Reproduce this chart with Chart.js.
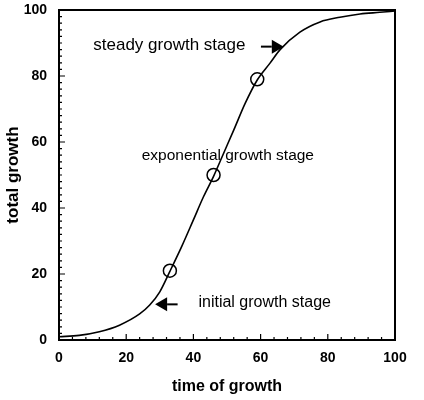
<!DOCTYPE html>
<html><head><meta charset="utf-8">
<script src="https://cdn.jsdelivr.net/npm/chart.js@4"></script>
<style>html,body{margin:0;padding:0;background:#fff}#wrap{width:424px;height:400px}</style>
</head><body><div id="wrap"><canvas id="c" width="424" height="400"></canvas></div>
<script>
// ---- data ----
const timeOfGrowth = [0, 6, 12, 18, 24, 27, 30, 33, 36.5, 40, 43, 46, 49, 52, 55.4, 59, 62.8, 65.8, 71.7, 77.7, 83.6, 89.6, 95.5, 100];
const totalGrowth  = [1.0, 1.4, 2.5, 4.5, 7.9, 10.6, 14.6, 20.8, 28.3, 36.4, 43.4, 49.6, 56.6, 63.6, 71.7, 78.8, 83.9, 88.0, 93.3, 96.4, 97.8, 98.8, 99.3, 99.7];
const stageTime    = [33, 46, 59];
const stageGrowth  = [21, 50, 79];
const xTickValues  = [0, 20, 40, 60, 80, 100];
const yTickValues  = [0, 20, 40, 60, 80, 100];
const stageLabels  = ['steady growth stage', 'exponential growth stage', 'initial growth stage'];
const labelTime    = [10.2, 24.6, 41.5];
const labelGrowth  = [87.9, 54.5, 9.9];
const arrowTailTime = [60.1, 35.3];
const arrowTipTime  = [66.9, 28.6];
const arrowGrowth   = [88.9, 10.8];
const xTitle = 'time of growth';
const yTitle = 'total growth';

// ---- styling ----
const FONT = "'Liberation Sans', Arial, sans-serif";
const LABEL_SIZES = [17, 15.5, 16];

const framePlugin = {
  id: 'frame',
  beforeDatasetsDraw(chart) {
    const {ctx, chartArea: a, scales: {x, y}} = chart;
    ctx.save();
    ctx.strokeStyle = '#000';
    ctx.lineWidth = 2;
    ctx.strokeRect(a.left, a.top, a.right - a.left, a.bottom - a.top);
    ctx.lineWidth = 1.2;
    ctx.beginPath();
    for (let v = 0; v <= 100; v += 2) {
      const py = y.getPixelForValue(v);
      const len = v % 20 === 0 ? 6 : 3;
      ctx.moveTo(a.left, py); ctx.lineTo(a.left + len, py);
    }
    for (let v = 0; v <= 100; v += 4) {
      const px = x.getPixelForValue(v);
      const len = v % 20 === 0 ? 6 : 3;
      ctx.moveTo(px, a.bottom); ctx.lineTo(px, a.bottom - len);
    }
    ctx.stroke();
    ctx.restore();
  },
  afterDatasetsDraw(chart) {
    const {ctx, scales: {x, y}} = chart;
    ctx.save();
    ctx.fillStyle = '#000';
    ctx.strokeStyle = '#000';
    ctx.textBaseline = 'alphabetic';
    ctx.textAlign = 'left';
    stageLabels.forEach((t, i) => {
      ctx.font = LABEL_SIZES[i] + 'px ' + FONT;
      ctx.fillText(t, x.getPixelForValue(labelTime[i]), y.getPixelForValue(labelGrowth[i]));
    });
    arrowTailTime.forEach((tail, i) => {
      const x0 = x.getPixelForValue(tail);
      const x1 = x.getPixelForValue(arrowTipTime[i]);
      const py = y.getPixelForValue(arrowGrowth[i]);
      const dir = Math.sign(x1 - x0);
      const headLen = 12, half = 7;
      ctx.lineWidth = 2;
      ctx.beginPath();
      ctx.moveTo(x0, py); ctx.lineTo(x1 - dir * headLen, py);
      ctx.stroke();
      ctx.beginPath();
      ctx.moveTo(x1, py);
      ctx.lineTo(x1 - dir * headLen, py - half);
      ctx.lineTo(x1 - dir * headLen, py + half);
      ctx.closePath();
      ctx.fill();
    });
    ctx.restore();
  }
};

new Chart(document.getElementById('c'), {
  type: 'scatter',
  data: {
    datasets: [
      {
        data: timeOfGrowth.map((t, i) => ({x: t, y: totalGrowth[i]})),
        showLine: true,
        borderColor: '#000',
        borderWidth: 1.6,
        pointRadius: 0,
        cubicInterpolationMode: 'monotone',
        fill: false
      },
      {
        data: stageTime.map((t, i) => ({x: t, y: stageGrowth[i]})),
        showLine: false,
        pointRadius: 6.5,
        pointBackgroundColor: '#fff',
        pointBorderColor: '#000',
        pointBorderWidth: 1.5
      }
    ]
  },
  options: {
    responsive: false,
    animation: false,
    layout: {padding: {top: 10, right: 29, left: 0, bottom: 0}},
    plugins: {legend: {display: false}, tooltip: {enabled: false}},
    scales: {
      x: {
        type: 'linear', min: 0, max: 100,
        afterBuildTicks: s => { s.ticks = xTickValues.map(v => ({value: v})); },
        afterFit: s => { s.height = 60; s.paddingLeft = 0; s.paddingRight = 0; },
        grid: {display: false, drawTicks: false},
        border: {display: false},
        ticks: {color: '#000', padding: 10, maxRotation: 0, font: {family: FONT, size: 14, weight: 'bold'}},
        title: {display: true, text: xTitle, color: '#000', padding: {top: 0, bottom: 4}, font: {family: FONT, size: 16, weight: 'bold'}}
      },
      y: {
        type: 'linear', min: 0, max: 100,
        afterBuildTicks: s => { s.ticks = yTickValues.map(v => ({value: v})); },
        afterFit: s => { s.width = 59; s.paddingTop = 0; s.paddingBottom = 0; },
        grid: {display: false, drawTicks: false},
        border: {display: false},
        ticks: {color: '#000', padding: 12, font: {family: FONT, size: 14, weight: 'bold'}},
        title: {display: true, text: yTitle, color: '#000', padding: {top: 3, bottom: 0}, font: {family: FONT, size: 17, weight: 'bold'}}
      }
    }
  },
  plugins: [framePlugin]
});
</script></body></html>
